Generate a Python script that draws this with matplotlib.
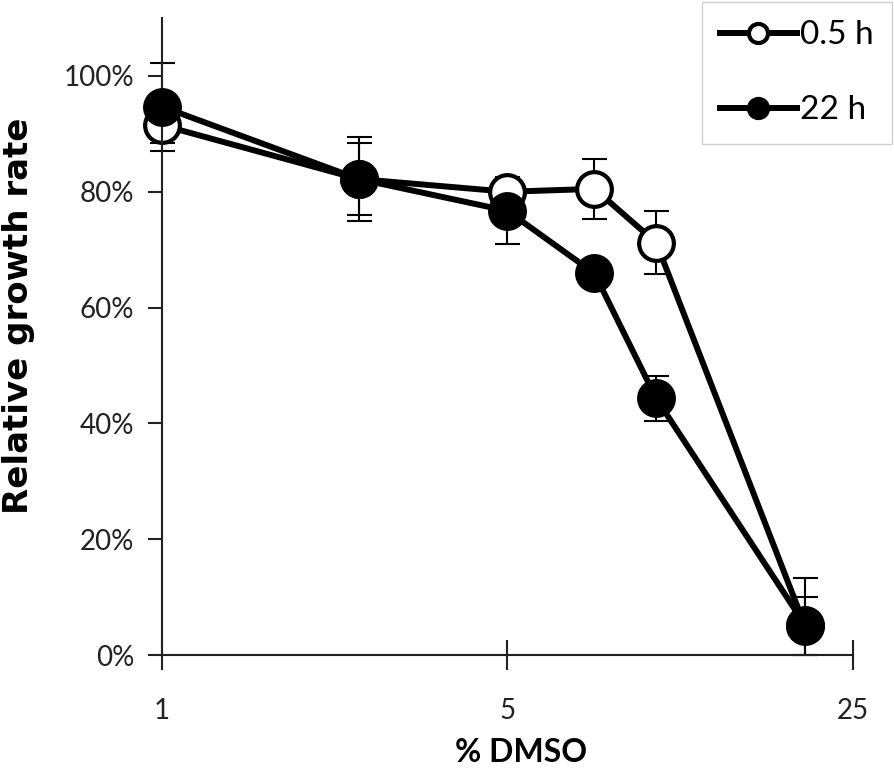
import matplotlib
matplotlib.use("Agg")
import matplotlib.pyplot as plt
import numpy as np
from matplotlib.ticker import FixedLocator, FuncFormatter, NullLocator

plt.rcParams['font.family'] = ['Lato', 'DejaVu Sans']

# data
dmso = [1, 2.5, 5, 7.5, 10, 20]
rate_05h = [0.915, 0.822, 0.800, 0.805, 0.712, 0.05]
err_05h = [0.03, 0.062, 0.02, 0.052, 0.054, 0.05]
rate_22h = [0.947, 0.822, 0.767, 0.659, 0.443, 0.052]
err_22h = [0.076, 0.072, 0.058, 0.02, 0.038, 0.081]

x_ticks = [1, 5, 25]
y_ticks = [0, 0.2, 0.4, 0.6, 0.8, 1.0]

fig = plt.figure(figsize=(8.95, 7.74), dpi=100)
ax = fig.add_axes([0.181, 0.1537, 0.772, 0.823])

# error bars first, behind the markers; lower part stops at 0
for vals, errs in [(rate_05h, err_05h), (rate_22h, err_22h)]:
    v = np.array(vals)
    e = np.array(errs)
    eb = ax.errorbar(dmso, vals, yerr=[np.minimum(e, v), e], fmt='none',
                     ecolor='black', elinewidth=1.5, capsize=9, capthick=1.5,
                     zorder=1)
    for art in eb.lines[1] + eb.lines[2]:
        art.set_clip_on(False)

ax.plot(dmso, rate_05h, color='black', lw=4.3, marker='o', ms=25,
        mfc='white', mec='black', mew=3, label='0.5 h', zorder=2, clip_on=False)
ax.plot(dmso, rate_22h, color='black', lw=4.3, marker='o', ms=25,
        mfc='black', mec='black', mew=3, label='22 h', zorder=3, clip_on=False)

ax.set_xscale('log')
ax.set_xlim(1, 25)
ax.set_ylim(0, 1.1)
ax.xaxis.set_major_locator(FixedLocator(x_ticks))
ax.xaxis.set_minor_locator(NullLocator())
ax.xaxis.set_major_formatter(FuncFormatter(lambda v, p: f"{v:g}"))
ax.yaxis.set_major_locator(FixedLocator(y_ticks))
ax.yaxis.set_major_formatter(FuncFormatter(lambda v, p: f"{v * 100:.0f}%"))

for s in ['top', 'right']:
    ax.spines[s].set_visible(False)
for s in ['left', 'bottom']:
    ax.spines[s].set_linewidth(1.5)
    ax.spines[s].set_color('#222222')

ax.tick_params(axis='x', direction='inout', length=22, width=1.5,
               labelsize=20, pad=20, colors='#222222')
ax.tick_params(axis='y', direction='out', length=10, width=1.5,
               labelsize=20, pad=10, colors='#222222')

# axis titles placed in figure coords
fig.text(521 / 895, 1 - 752 / 774, '% DMSO', fontsize=23, fontweight='bold',
         ha='center', va='center')
fig.text(19 / 895, 1 - 316 / 774, 'Relative growth rate', fontsize=24.5,
         fontweight='bold', family='DejaVu Sans', rotation=90,
         ha='center', va='center')

leg = ax.legend(loc='upper right', bbox_to_anchor=(892 / 895, 1 - 2 / 774),
                bbox_transform=fig.transFigure, fontsize=24, markerscale=0.55,
                handlelength=2.3, labelspacing=1.35, borderpad=0.55,
                borderaxespad=0, handletextpad=0.1, fancybox=False,
                framealpha=1)
leg.get_frame().set_edgecolor('#d0d0d0')
leg.get_frame().set_linewidth(1)

fig.savefig('out.png', dpi=100)
